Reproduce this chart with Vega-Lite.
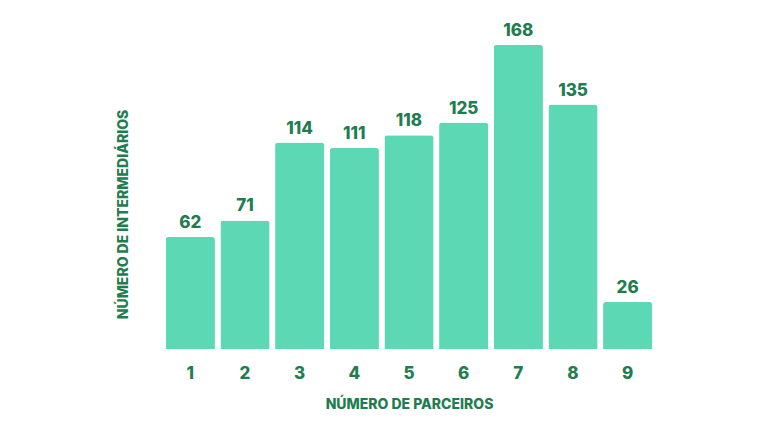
{
  "$schema": "https://vega.github.io/schema/vega-lite/v6.json",
  "width": 492,
  "height": 326,
  "autosize": {"type": "none"},
  "padding": {"left": 163, "top": 23, "right": 113, "bottom": 83},
  "background": "#ffffff",
  "data": {"values": [
    {"parceiros": "1", "intermediarios": 62},
    {"parceiros": "2", "intermediarios": 71},
    {"parceiros": "3", "intermediarios": 114},
    {"parceiros": "4", "intermediarios": 111},
    {"parceiros": "5", "intermediarios": 118},
    {"parceiros": "6", "intermediarios": 125},
    {"parceiros": "7", "intermediarios": 168},
    {"parceiros": "8", "intermediarios": 135},
    {"parceiros": "9", "intermediarios": 26}
  ]},
  "config": {
    "view": {"stroke": null},
    "font": "Inter"
  },
  "encoding": {
    "x": {
      "field": "parceiros", "type": "ordinal", "sort": null,
      "scale": {"paddingInner": 0.1, "paddingOuter": 0.05},
      "axis": {
        "title": "NÚMERO DE PARCEIROS",
        "labelAngle": 0, "domain": false, "ticks": false,
        "labelPadding": 16, "labelFontSize": 17, "labelFontWeight": 800,
        "labelColor": "#1f7d4f", "labelFont": "Inter",
        "titleFontSize": 14, "titleFontWeight": 800, "titleColor": "#1f7d4f",
        "titleFont": "Inter", "titlePadding": 16
      }
    },
    "y": {
      "field": "intermediarios", "type": "quantitative",
      "scale": {"domain": [0, 180]},
      "axis": {
        "title": "NÚMERO DE INTERMEDIÁRIOS",
        "labels": false, "ticks": false, "domain": false, "grid": false,
        "titleFontSize": 14, "titleFontWeight": 800, "titleColor": "#1f7d4f",
        "titleFont": "Inter", "titleX": -33, "titleY": 191
      }
    }
  },
  "layer": [
    {
      "mark": {"type": "bar", "color": "#5dd8b4", "cornerRadiusTopLeft": 3, "cornerRadiusTopRight": 3}
    },
    {
      "mark": {"type": "text", "baseline": "alphabetic", "dy": -9, "fontSize": 17, "fontWeight": 800, "color": "#1f7d4f", "font": "Inter"},
      "encoding": {"text": {"field": "intermediarios", "type": "quantitative"}}
    }
  ]
}
